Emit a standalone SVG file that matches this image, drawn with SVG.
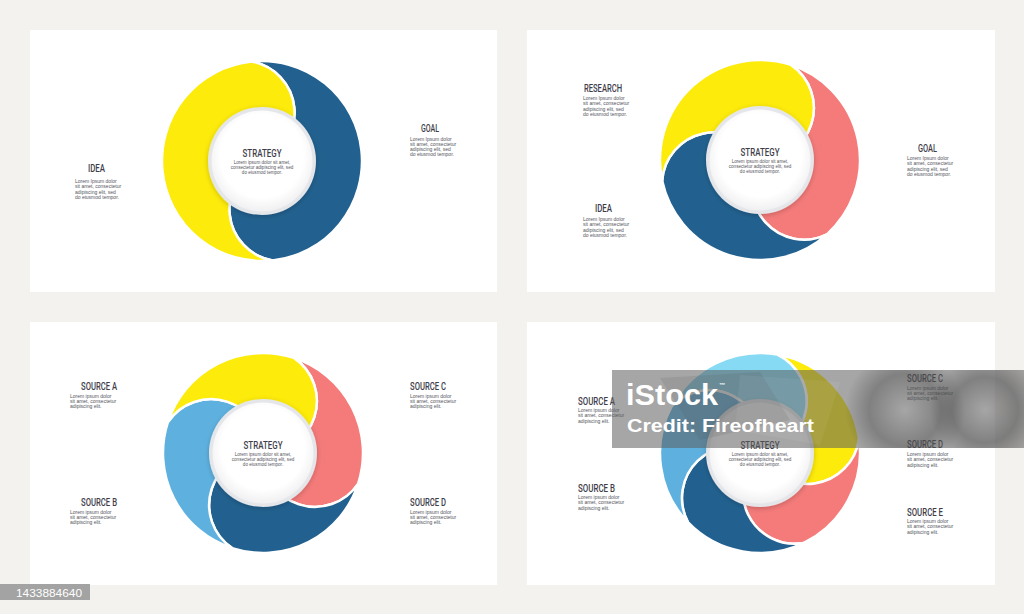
<svg xmlns="http://www.w3.org/2000/svg" xmlns:xlink="http://www.w3.org/1999/xlink" width="1024" height="614" viewBox="0 0 1024 614">
<defs>
<style>
.panel{fill:#ffffff}
.seg{stroke:#ffffff;stroke-width:2.5;stroke-linejoin:round}
.y{fill:#fdeb0b}.b{fill:#22618f}.p{fill:#f47b7a}.lb{fill:#5eb1df}.c{fill:#86daf4}
.t{font-family:Roboto,"Liberation Sans",sans-serif;font-weight:500;font-size:11px;fill:#3e3d4a}
.ct{font-family:Roboto,"Liberation Sans",sans-serif;font-weight:500;font-size:11px;fill:#3e3d4a;text-anchor:middle}
.bd{font-family:"Liberation Sans",Arial,sans-serif;font-size:5px;fill:#555560}
.cb{font-family:"Liberation Sans",Arial,sans-serif;font-size:4.6px;fill:#555560;text-anchor:middle}
.wm{font-family:"Liberation Sans",Arial,sans-serif;font-weight:bold;fill:#ffffff}
</style>
<path id="s180" d="M100 0 A100 100 0 0 1 -100 0 A52 52 0 0 1 0 0 A52 52 0 0 0 100 0 Z"/>
<path id="s120" d="M100 0 A100 100 0 0 1 -50 86.6 A52 52 0 0 1 0 0 A52 52 0 0 0 100 0 Z"/>
<path id="s90" d="M100 0 A100 100 0 0 1 0 100 A52 52 0 0 1 0 0 A52 52 0 0 0 100 0 Z"/>
<path id="s72" d="M100 0 A100 100 0 0 1 30.9 95.1 A52 52 0 0 1 0 0 A52 52 0 0 0 100 0 Z"/>
<filter id="sh" x="-30%" y="-30%" width="160%" height="160%">
<feDropShadow dx="0" dy="1.5" stdDeviation="2.5" flood-color="#000" flood-opacity="0.2"/>
</filter>
<radialGradient id="hg" cx="50%" cy="45%" r="55%">
<stop offset="0.75" stop-color="#ffffff"/>
<stop offset="1" stop-color="#f0f0f2"/>
</radialGradient>
<g id="hub">
<circle r="54" fill="#e5e6e9" filter="url(#sh)"/>
<circle r="50.5" fill="url(#hg)"/>
<text class="ct" y="-4.5" textLength="39" lengthAdjust="spacingAndGlyphs">STRATEGY</text>
<text class="cb" y="2.5">Lorem ipsum dolor sit amet,</text>
<text class="cb" y="7.8">consectetur adipiscing elit, sed</text>
<text class="cb" y="13.1">do eiusmod tempor.</text>
</g>
<radialGradient id="wg" cx="50%" cy="50%" r="50%">
<stop offset="0" stop-color="#3a3a3a" stop-opacity="0.0"/>
<stop offset="0.6" stop-color="#3a3a3a" stop-opacity="0.35"/>
<stop offset="1" stop-color="#3a3a3a" stop-opacity="0"/>
</radialGradient>
<clipPath id="band"><rect x="612" y="370" width="412" height="78"/></clipPath>
</defs>

<rect width="1024" height="614" fill="#f4f2ef"/>

<!-- Panel 1 -->
<g id="panel1">
<rect class="panel" x="30" y="30" width="467" height="262"/>
<g id="p1-seg-blue"><use href="#s180" class="seg b" transform="translate(262,161) rotate(-96)"/></g>
<g id="p1-seg-yellow"><use href="#s180" class="seg y" transform="translate(262,161) rotate(84)"/></g>
<g id="p1-hub"><use href="#hub" transform="translate(262,161)"/></g>
<g id="p1-idea">
<text class="t" x="88" y="172" textLength="17" lengthAdjust="spacingAndGlyphs">IDEA</text>
<text class="bd" x="75" y="183">Lorem Ipsum dolor</text>
<text class="bd" x="75" y="188.3">sit amet, consectetur</text>
<text class="bd" x="75" y="193.6">adipiscing elit, sed</text>
<text class="bd" x="75" y="198.9">do eiusmod tempor.</text>
</g>
<g id="p1-goal">
<text class="t" x="421" y="131.5" textLength="18" lengthAdjust="spacingAndGlyphs">GOAL</text>
<text class="bd" x="410" y="140.5">Lorem Ipsum dolor</text>
<text class="bd" x="410" y="145.8">sit amet, consectetur</text>
<text class="bd" x="410" y="151.1">adipiscing elit, sed</text>
<text class="bd" x="410" y="156.4">do eiusmod tempor.</text>
</g>
</g>

<!-- Panel 2 -->
<g id="panel2">
<rect class="panel" x="527" y="30" width="468" height="262"/>
<g id="p2-seg-pink"><use href="#s120" class="seg p" transform="translate(760,160) rotate(-72)"/></g>
<g id="p2-seg-blue"><use href="#s120" class="seg b" transform="translate(760,160) rotate(48)"/></g>
<g id="p2-seg-yellow"><use href="#s120" class="seg y" transform="translate(760,160) rotate(168)"/></g>
<g id="p2-hub"><use href="#hub" transform="translate(760,160)"/></g>
<g id="p2-research">
<text class="t" x="584" y="92" textLength="38" lengthAdjust="spacingAndGlyphs">RESEARCH</text>
<text class="bd" x="583" y="100">Lorem Ipsum dolor</text>
<text class="bd" x="583" y="105.3">sit amet, consectetur</text>
<text class="bd" x="583" y="110.6">adipiscing elit, sed</text>
<text class="bd" x="583" y="115.9">do eiusmod tempor.</text>
</g>
<g id="p2-goal">
<text class="t" x="918" y="152" textLength="19" lengthAdjust="spacingAndGlyphs">GOAL</text>
<text class="bd" x="907" y="160">Lorem Ipsum dolor</text>
<text class="bd" x="907" y="165.3">sit amet, consectetur</text>
<text class="bd" x="907" y="170.6">adipiscing elit, sed</text>
<text class="bd" x="907" y="175.9">do eiusmod tempor.</text>
</g>
<g id="p2-idea">
<text class="t" x="595" y="212" textLength="17" lengthAdjust="spacingAndGlyphs">IDEA</text>
<text class="bd" x="583" y="221">Lorem Ipsum dolor</text>
<text class="bd" x="583" y="226.3">sit amet, consectetur</text>
<text class="bd" x="583" y="231.6">adipiscing elit, sed</text>
<text class="bd" x="583" y="236.9">do eiusmod tempor.</text>
</g>
</g>

<!-- Panel 3 -->
<g id="panel3">
<rect class="panel" x="30" y="322" width="467" height="263"/>
<g id="p3-seg-pink"><use href="#s90" class="seg p" transform="translate(263,453) rotate(-72)"/></g>
<g id="p3-seg-blue"><use href="#s90" class="seg b" transform="translate(263,453) rotate(18)"/></g>
<g id="p3-seg-lightblue"><use href="#s90" class="seg lb" transform="translate(263,453) rotate(108)"/></g>
<g id="p3-seg-yellow"><use href="#s90" class="seg y" transform="translate(263,453) rotate(198)"/></g>
<g id="p3-hub"><use href="#hub" transform="translate(263,453)"/></g>
<g id="p3-source-a">
<text class="t" x="81" y="389.5" textLength="36" lengthAdjust="spacingAndGlyphs">SOURCE A</text>
<text class="bd" x="70" y="397.5">Lorem ipsum dolor</text>
<text class="bd" x="70" y="402.8">sit amet, consectetur</text>
<text class="bd" x="70" y="408.1">adipiscing elit.</text>
</g>
<g id="p3-source-b">
<text class="t" x="81" y="505.5" textLength="36" lengthAdjust="spacingAndGlyphs">SOURCE B</text>
<text class="bd" x="70" y="513.5">Lorem ipsum dolor</text>
<text class="bd" x="70" y="518.8">sit amet, consectetur</text>
<text class="bd" x="70" y="524.1">adipiscing elit.</text>
</g>
<g id="p3-source-c">
<text class="t" x="410" y="389.5" textLength="36" lengthAdjust="spacingAndGlyphs">SOURCE C</text>
<text class="bd" x="410" y="397.5">Lorem ipsum dolor</text>
<text class="bd" x="410" y="402.8">sit amet, consectetur</text>
<text class="bd" x="410" y="408.1">adipiscing elit.</text>
</g>
<g id="p3-source-d">
<text class="t" x="410" y="505.5" textLength="36" lengthAdjust="spacingAndGlyphs">SOURCE D</text>
<text class="bd" x="410" y="513.5">Lorem ipsum dolor</text>
<text class="bd" x="410" y="518.8">sit amet, consectetur</text>
<text class="bd" x="410" y="524.1">adipiscing elit.</text>
</g>
</g>

<!-- Panel 4 -->
<g id="panel4">
<rect class="panel" x="527" y="322" width="468" height="263"/>
<g id="p4-seg-yellow"><use href="#s72" class="seg y" transform="translate(760,453) rotate(-80)"/></g>
<g id="p4-seg-pink"><use href="#s72" class="seg p" transform="translate(760,453) rotate(-8)"/></g>
<g id="p4-seg-blue"><use href="#s72" class="seg b" transform="translate(760,453) rotate(64)"/></g>
<g id="p4-seg-lightblue"><use href="#s72" class="seg lb" transform="translate(760,453) rotate(136)"/></g>
<g id="p4-seg-cyan"><use href="#s72" class="seg c" transform="translate(760,453) rotate(208)"/></g>
<g id="p4-hub"><use href="#hub" transform="translate(760,453)"/></g>
<g id="p4-source-a">
<text class="t" x="578" y="404.5" textLength="37" lengthAdjust="spacingAndGlyphs">SOURCE A</text>
<text class="bd" x="578" y="412">Lorem ipsum dolor</text>
<text class="bd" x="578" y="417.3">sit amet, consectetur</text>
<text class="bd" x="578" y="422.6">adipiscing elit.</text>
</g>
<g id="p4-source-b">
<text class="t" x="578" y="491.5" textLength="37" lengthAdjust="spacingAndGlyphs">SOURCE B</text>
<text class="bd" x="578" y="499">Lorem ipsum dolor</text>
<text class="bd" x="578" y="504.3">sit amet, consectetur</text>
<text class="bd" x="578" y="509.6">adipiscing elit.</text>
</g>
<g id="p4-source-c">
<text class="t" x="907" y="381.5" textLength="36" lengthAdjust="spacingAndGlyphs">SOURCE C</text>
<text class="bd" x="907" y="389.5">Lorem ipsum dolor</text>
<text class="bd" x="907" y="394.8">sit amet, consectetur</text>
<text class="bd" x="907" y="400.1">adipiscing elit.</text>
</g>
<g id="p4-source-d">
<text class="t" x="907" y="447.5" textLength="36" lengthAdjust="spacingAndGlyphs">SOURCE D</text>
<text class="bd" x="907" y="456">Lorem ipsum dolor</text>
<text class="bd" x="907" y="461.3">sit amet, consectetur</text>
<text class="bd" x="907" y="466.6">adipiscing elit.</text>
</g>
<g id="p4-source-e">
<text class="t" x="907" y="515.5" textLength="36" lengthAdjust="spacingAndGlyphs">SOURCE E</text>
<text class="bd" x="907" y="523">Lorem ipsum dolor</text>
<text class="bd" x="907" y="528.3">sit amet, consectetur</text>
<text class="bd" x="907" y="533.6">adipiscing elit.</text>
</g>
</g>

<!-- Watermark band -->
<g id="watermark">
<rect x="612" y="370" width="412" height="78" fill="#5c5c5c" fill-opacity="0.55"/>
<g clip-path="url(#band)">
<polygon points="660,378 760,372 790,420 700,440" fill="#4a4a4a" fill-opacity="0.12"/>
<polygon points="740,375 840,382 820,445 735,430" fill="#ffffff" fill-opacity="0.06"/>
<circle cx="905" cy="410" r="60" fill="url(#wg)"/>
<circle cx="985" cy="410" r="55" fill="url(#wg)"/>
</g>
<text class="wm" x="626" y="405" font-size="30" textLength="92" lengthAdjust="spacingAndGlyphs">iStock</text>
<text class="wm" x="719" y="387" font-size="6">™</text>
<text class="wm" x="627" y="432" font-size="17.5" textLength="187" lengthAdjust="spacingAndGlyphs">Credit: Fireofheart</text>
</g>

<!-- ID label -->
<g id="id-label">
<rect x="0" y="584" width="90" height="16" fill="#a3a3a3"/>
<text x="16" y="596.5" font-family="'Liberation Sans',Arial,sans-serif" font-size="11.5" fill="#ffffff" textLength="66" lengthAdjust="spacingAndGlyphs">1433884640</text>
</g>
</svg>
